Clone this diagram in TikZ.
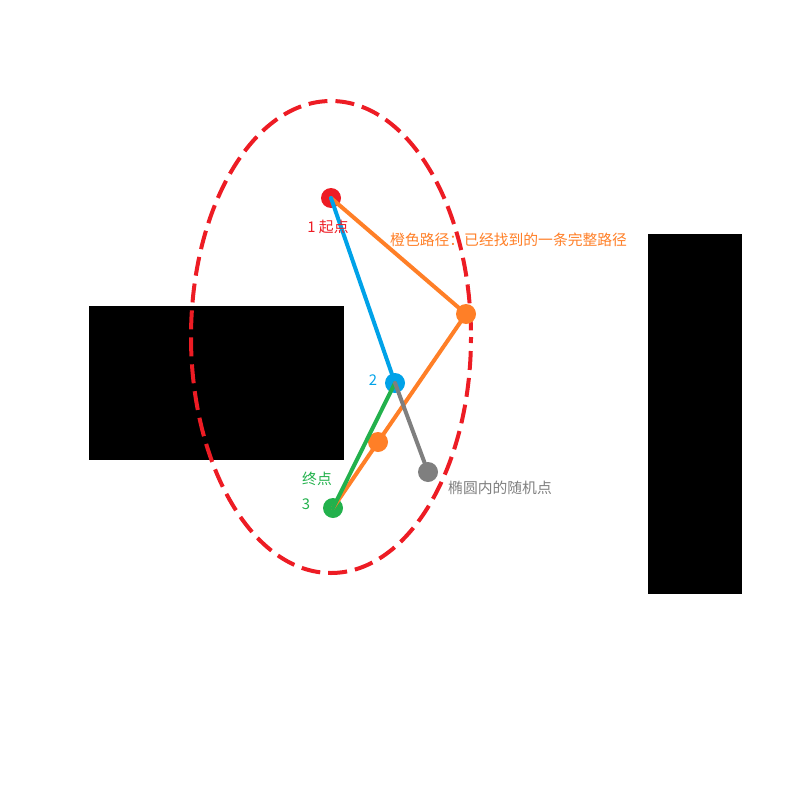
\documentclass[tikz,border=0pt]{standalone}
\usepackage{fontspec}
\setmainfont{Noto Sans CJK SC}
\usetikzlibrary{positioning}
\definecolor{startred}{HTML}{ED1C24}
\definecolor{pathorange}{HTML}{FF7F27}
\definecolor{treeblue}{HTML}{00A2E8}
\definecolor{goalgreen}{HTML}{22B14C}
\definecolor{randgray}{HTML}{7F7F7F}

\begin{document}
\begin{tikzpicture}[x=1pt, y=-1pt,
    pt/.style={circle, fill=#1, inner sep=0pt, minimum size=20pt},
    path line/.style={line width=4pt, line cap=round, #1},
    lbl/.style={text=#1, inner sep=0pt, font=\fontsize{14.8}{17}\selectfont}]
    \useasboundingbox (0,0) rectangle (800,800);

    % obstacles
    \fill [black] (89,306) rectangle (344,460);
    \fill [black] (648,234) rectangle (742,594);

    % sampling ellipse
    \draw [line width=4pt, startred, dash pattern=on 19pt off 8pt, dash phase=13pt] (331,337) ellipse [x radius=140, y radius=236];

    \node [pt=startred] (start) at (331,198) {};
    \node [pt=pathorange] (o1) at (466,314) {};
    \node [pt=treeblue] (n2) at (395,383) {};
    \node [pt=pathorange] (o2) at (378,442) {};
    \node [pt=randgray] (rand) at (428,472) {};
    \node [pt=goalgreen] (goal) at (333,508) {};

    \draw [path line=pathorange] (start.center) -- (o1.center) -- (o2.center) -- (goal.center);
    \draw [path line=treeblue] (start.center) -- (n2.center);
    \draw [path line=goalgreen] (n2.center) -- (goal.center);
    \draw [path line=randgray] (n2.center) -- (rand.center);

    \node [lbl=startred] (startlbl) at (328,227) {1 起点};
    \node [lbl=pathorange, anchor=west] (pathlbl) at (390,240) {橙色路径：已经找到的一条完整路径};
    \node [lbl=treeblue] (n2lbl) at (373,380) {2};
    \node [lbl=goalgreen] (goallbl) at (317,479) {终点};
    \node [lbl=goalgreen] (goalnum) at (306,504) {3};
    \node [lbl=randgray, anchor=west] (randlbl) at (448,488) {椭圆内的随机点};
\end{tikzpicture}
\end{document}
